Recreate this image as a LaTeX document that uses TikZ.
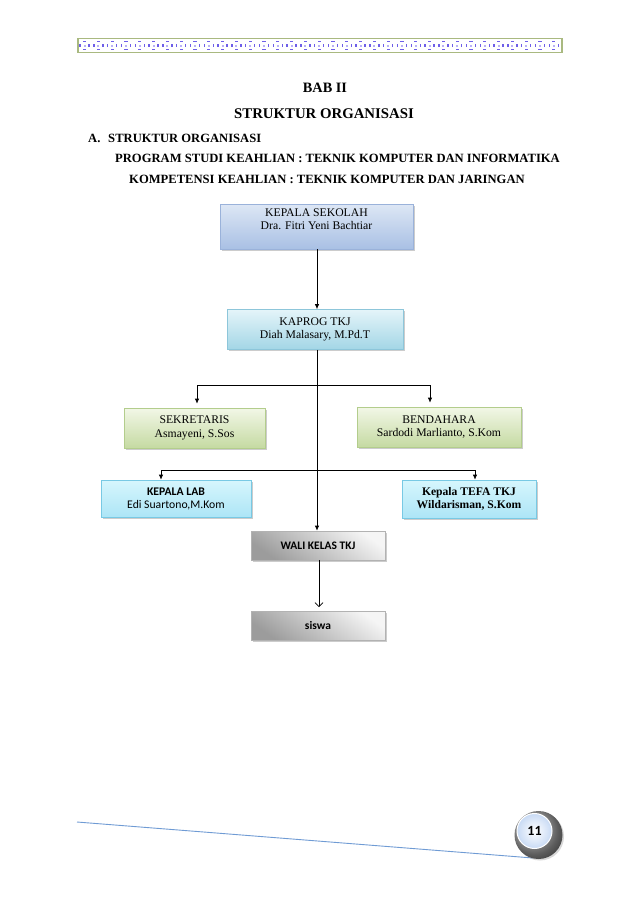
\documentclass[tikz,border=0pt]{standalone}
\usepackage{fontspec}
\setmainfont{Liberation Serif}
\newfontfamily\carl{Carlito}
\usetikzlibrary{arrows.meta,shadows,calc}
\definecolor{ksT}{HTML}{DDE7F5}
\definecolor{ksB}{HTML}{A9C0E4}
\definecolor{ksD}{HTML}{9AB2DA}
\definecolor{kpT}{HTML}{E4F4F9}
\definecolor{kpB}{HTML}{A3D6E6}
\definecolor{kpD}{HTML}{8DC6DA}
\definecolor{gT}{HTML}{F2F7E7}
\definecolor{gB}{HTML}{C5DAA2}
\definecolor{gD}{HTML}{B3CD8C}
\definecolor{cT}{HTML}{D6F6FD}
\definecolor{cB}{HTML}{ADE5F6}
\definecolor{cD}{HTML}{78C9E4}
\definecolor{barD}{HTML}{A9B980}
\definecolor{pat}{HTML}{6E5FE8}
\definecolor{patl}{HTML}{B9B2F6}
\definecolor{lineB}{HTML}{6F9BD4}
\definecolor{pgB}{HTML}{C8DAF4}
\newcommand\fsz[2]{\fontsize{#1}{#2}\selectfont}
\tikzset{
  box/.style={draw, line width=0.6pt, inner sep=0pt, align=center,
    drop shadow={opacity=0.4, shadow xshift=1.8pt, shadow yshift=-1.8pt}},
  serifbox/.style={font=\fsz{11.7}{13.3}},
  greybox/.style={box, draw=gray!60, top color=gray!8, bottom color=gray!78,
    shading angle=-35, font=\carl\bfseries\fsz{11.5}{13}},
  conn/.style={line width=0.8pt, draw=black},
  arr/.style={conn, -{Latex[length=5pt,width=4.5pt]}},
  openarr/.style={conn, -{Straight Barb[length=4pt,width=8pt]}},
  head/.style={inner sep=0pt, font=\bfseries\fsz{12.6}{15}},
}
\begin{document}
\begin{tikzpicture}[x=1pt,y=-1pt]
\useasboundingbox (0,0) rectangle (638,902);
\fill[white] (0,0) rectangle (638,902);
% top decorative bar
\draw[barD, line width=1.5pt, fill=white] (78,38.5) rectangle (562,52.5);
\foreach \i in {0,...,34}{
  \pgfmathsetmacro\xx{84.5+\i*13.8}
  \fill[pat] (\xx-1.6,40.6) rectangle (\xx+1.6,42.1);
  \fill[pat] (\xx-1.6,48.8) rectangle (\xx+1.6,50.3);
  \fill[pat] (\xx-5.2,44.1) rectangle (\xx-3.8,46.9);
  \fill[pat] (\xx+3.8,44.1) rectangle (\xx+5.2,46.9);
  \fill[patl] (\xx-1,44.5) rectangle (\xx+1,46.5);
}
% headings
\node[head, anchor=base, font=\bfseries\fsz{14.3}{16}] (bab) at (325,92) {BAB II};
\node[head, anchor=base, font=\bfseries\fsz{14.8}{17}] (judul) at (324,118) {STRUKTUR ORGANISASI};
\node[head, anchor=base west] (subA) at (88,142) {A.\hspace{7.8pt}STRUKTUR ORGANISASI};
\node[head, anchor=base west] (prog) at (115,162) {PROGRAM STUDI KEAHLIAN : TEKNIK KOMPUTER DAN INFORMATIKA};
\node[head, anchor=base west] (komp) at (129,183) {KOMPETENSI KEAHLIAN : TEKNIK KOMPUTER DAN JARINGAN};
% boxes
\node[box, serifbox, top color=ksT, bottom color=ksB, draw=ksD,
  minimum width=193pt, minimum height=45pt] (ks) at (316.5,226.5)
  {KEPALA SEKOLAH\\Dra. Fitri Yeni Bachtiar\\[2pt]};
\node[box, serifbox, top color=kpT, bottom color=kpB, draw=kpD,
  minimum width=176pt, minimum height=40pt] (kp) at (315,329.5)
  {KAPROG TKJ\\Diah Malasary, M.Pd.T};
\node[box, serifbox, top color=gT, bottom color=gB, draw=gD,
  minimum width=141pt, minimum height=40pt] (sek) at (194.5,428)
  {SEKRETARIS\\Asmayeni, S.Sos};
\node[box, serifbox, top color=gT, bottom color=gB, draw=gD,
  minimum width=164pt, minimum height=40pt] (ben) at (439,427)
  {BENDAHARA\\Sardodi Marlianto, S.Kom};
\node[box, top color=cT, bottom color=cB, draw=cD, font=\carl\fsz{11.7}{13},
  minimum width=150pt, minimum height=37pt] (lab) at (176,498.5)
  {\textbf{KEPALA LAB}\\Edi Suartono,M.Kom};
\node[box, top color=cT, bottom color=cB, draw=cD, font=\bfseries\fsz{11.6}{13},
  minimum width=134pt, minimum height=38pt] (tefa) at (469,499)
  {Kepala TEFA TKJ\\Wildarisman, S.Kom};
\node[greybox, minimum width=134pt, minimum height=29pt] (wali) at (318,545.5) {WALI KELAS TKJ};
\node[greybox, minimum width=134pt, minimum height=29pt] (siswa) at (318,625.5) {siswa};
% connectors
\draw[arr] ([xshift=0.5pt]ks.south) -- ([xshift=0.5pt]ks.south |- kp.north);
\draw[arr] ([xshift=2pt]kp.south) -- ([xshift=2pt]kp.south |- wali.north);
\coordinate (b1) at (317,385);
\coordinate (b2) at (317,470);
\draw[arr, shorten >=4pt] (b1) -| ([xshift=2.5pt]sek.north);
\draw[arr, shorten >=4pt] (b1) -| ([xshift=-9pt]ben.north);
\draw[arr] (b2) -| ([xshift=-15pt]lab.north);
\draw[arr] (b2) -| ([xshift=6pt]tefa.north);
\draw[openarr, shorten >=3.5pt] ([xshift=1pt]wali.south) -- ([xshift=1pt]siswa.north);
% footer
\draw[lineB, line width=0.9pt] (77,822) -- (533,858);
\shade[ball color=gray!55, drop shadow={opacity=0.3, shadow xshift=1.5pt, shadow yshift=-1.5pt}] (538.5,835) circle (24pt);
\node[circle, draw=white, line width=1pt, inner color=white, outer color=pgB,
  minimum size=35pt, inner sep=0pt, font=\carl\bfseries\fsz{14}{16}] (pg) at (534.5,831) {11};
\end{tikzpicture}
\end{document}
